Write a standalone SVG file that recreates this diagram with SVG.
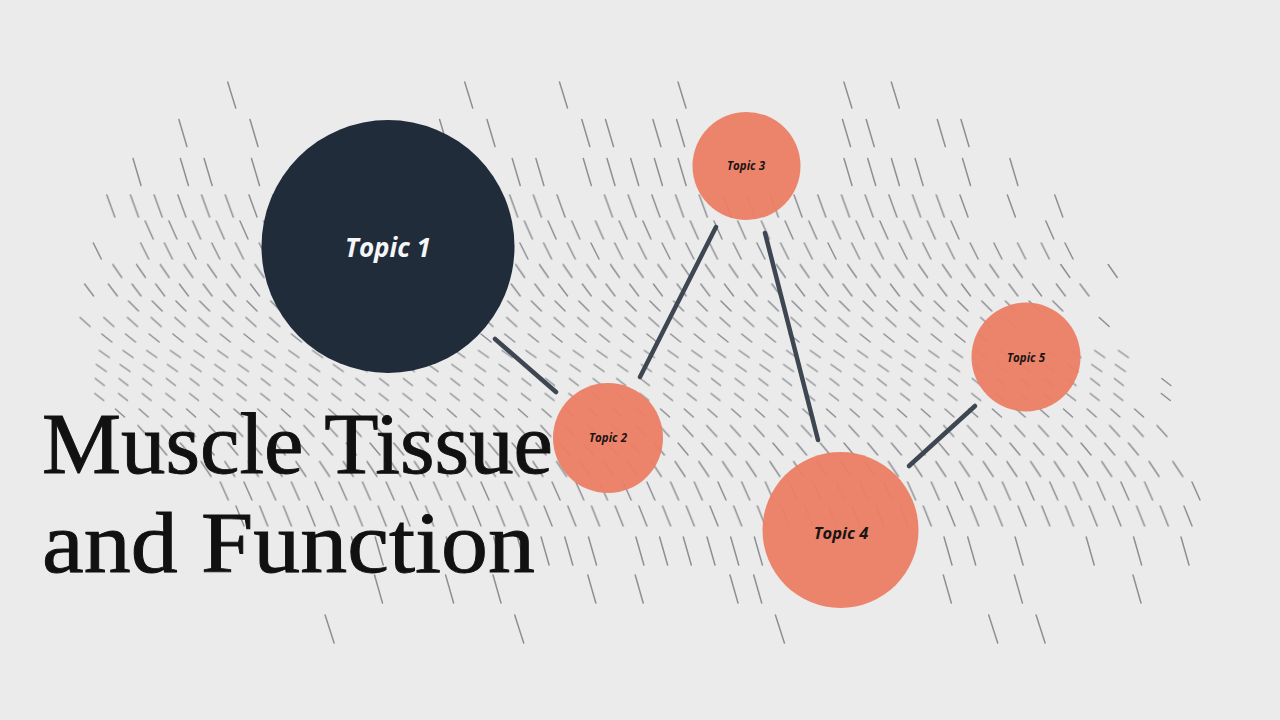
<svg xmlns="http://www.w3.org/2000/svg" width="1280" height="720" viewBox="0 0 1280 720">
<style>
.h{stroke:#8c9095;stroke-width:1.5;stroke-linecap:round;fill:none}
.c{stroke:#3d4651;stroke-width:4.5;stroke-linecap:round;fill:none}
.t{font-family:"Open Sans","Noto Sans",sans-serif;font-weight:700;font-style:italic;text-anchor:middle}
.sal{fill:#ec7e65;fill-opacity:0.95}
.ttl{font-family:"Liberation Serif","Times New Roman",serif;font-size:86px;fill:#111;stroke:#111;stroke-width:0.9}
</style>
<defs>
<pattern id="p4" patternUnits="userSpaceOnUse" x="4.15" y="193" width="23.7" height="26"><path class="h" d="M7.85 2l8 22"/></pattern>
<pattern id="p5" patternUnits="userSpaceOnUse" x="-4.85" y="219" width="23.7" height="22"><path class="h" d="M7.85 2l8 18"/></pattern>
<pattern id="p6" patternUnits="userSpaceOnUse" x="-9.35" y="241" width="23.7" height="20"><path class="h" d="M7.85 2l8 16"/></pattern>
<pattern id="p7" patternUnits="userSpaceOnUse" x="10.65" y="262.5" width="23.7" height="17"><path class="h" d="M7.35 2l9 13"/></pattern>
<pattern id="p8" patternUnits="userSpaceOnUse" x="6.15" y="282" width="23.7" height="16"><path class="h" d="M7.35 2l9 12"/></pattern>
<pattern id="p9" patternUnits="userSpaceOnUse" x="3.15" y="299" width="23.7" height="14"><path class="h" d="M6.85 2l10 10"/></pattern>
<pattern id="p10" patternUnits="userSpaceOnUse" x="2.15" y="315.5" width="23.7" height="13"><path class="h" d="M6.85 2l10 9"/></pattern>
<pattern id="p11" patternUnits="userSpaceOnUse" x="0.15" y="332" width="23.7" height="12"><path class="h" d="M6.85 2l10 8"/></pattern>
<pattern id="p12" patternUnits="userSpaceOnUse" x="-2.35" y="348.5" width="23.7" height="11"><path class="h" d="M6.85 2l10 7"/></pattern>
<pattern id="p13" patternUnits="userSpaceOnUse" x="-5.35" y="362.5" width="23.7" height="11"><path class="h" d="M6.85 2l10 7"/></pattern>
<pattern id="p14" patternUnits="userSpaceOnUse" x="-6.85" y="376.5" width="23.7" height="11"><path class="h" d="M7.35 2l9 7"/></pattern>
<pattern id="p15" patternUnits="userSpaceOnUse" x="-7.35" y="391.5" width="23.7" height="11"><path class="h" d="M7.35 2l9 7"/></pattern>
<pattern id="p16" patternUnits="userSpaceOnUse" x="-10.35" y="407" width="23.7" height="12"><path class="h" d="M7.35 2l9 8"/></pattern>
<pattern id="p17" patternUnits="userSpaceOnUse" x="-11.15" y="423.5" width="23.7" height="15"><path class="h" d="M6.85 2l10 11"/></pattern>
<pattern id="p18" patternUnits="userSpaceOnUse" x="7.65" y="441" width="23.7" height="16"><path class="h" d="M6.85 2l10 12"/></pattern>
<pattern id="p19" patternUnits="userSpaceOnUse" x="4.65" y="459.5" width="23.7" height="19"><path class="h" d="M6.85 2l10 15"/></pattern>
<pattern id="p20" patternUnits="userSpaceOnUse" x="-0.85" y="480" width="23.7" height="22"><path class="h" d="M7.85 2l8 18"/></pattern>
<pattern id="p21" patternUnits="userSpaceOnUse" x="-8.85" y="504" width="23.7" height="24"><path class="h" d="M7.85 2l8 20"/></pattern>
</defs>
<rect width="1280" height="720" fill="#ebebeb"/>
<g id="texture">
<rect x="99" y="193" width="474" height="26" fill="url(#p4)"/>
<rect x="596.65" y="193" width="379.2" height="26" fill="url(#p4)"/>
<rect x="137.35" y="219" width="829.5" height="22" fill="url(#p5)"/>
<rect x="132.85" y="241" width="948" height="20" fill="url(#p6)"/>
<rect x="105.45" y="262.5" width="924.3" height="17" fill="url(#p7)"/>
<rect x="77.25" y="282" width="1019.1" height="16" fill="url(#p8)"/>
<rect x="121.65" y="299" width="948" height="14" fill="url(#p9)"/>
<rect x="73.25" y="315.5" width="948" height="13" fill="url(#p10)"/>
<rect x="94.95" y="332" width="900.9" height="12" fill="url(#p11)"/>
<rect x="92.45" y="348.5" width="1042.8" height="11" fill="url(#p12)"/>
<rect x="89.45" y="362.5" width="1042.8" height="11" fill="url(#p13)"/>
<rect x="87.95" y="376.5" width="1042.8" height="11" fill="url(#p14)"/>
<rect x="87.45" y="391.5" width="1042.8" height="11" fill="url(#p15)"/>
<rect x="108.15" y="407" width="1042.8" height="12" fill="url(#p16)"/>
<rect x="131.05" y="423.5" width="1042.8" height="15" fill="url(#p17)"/>
<rect x="149.85" y="441" width="995.4" height="16" fill="url(#p18)"/>
<rect x="194.25" y="459.5" width="995.4" height="19" fill="url(#p19)"/>
<rect x="212.45" y="480" width="948" height="22" fill="url(#p20)"/>
<rect x="228.15" y="504" width="971.7" height="24" fill="url(#p21)"/>
<path class="h" d="M227.7 82l8 26M464.7 82l8 26M559.5 82l8 26M678 82l8 26M843.9 82l8 26M891.3 82l8 26"/>
<path class="h" d="M178.9 119.5l8 27M250 119.5l8 27M439.6 119.5l8 27M487 119.5l8 27M581.8 119.5l8 27M605.5 119.5l8 27M652.9 119.5l8 27M676.6 119.5l8 27M842.5 119.5l8 27M866.2 119.5l8 27M937.3 119.5l8 27M961 119.5l8 27"/>
<path class="h" d="M133 158.5l8 27M180.4 158.5l8 27M204.1 158.5l8 27M251.5 158.5l8 27M512.2 158.5l8 27M535.9 158.5l8 27M583.3 158.5l8 27M607 158.5l8 27M630.7 158.5l8 27M654.4 158.5l8 27M678.1 158.5l8 27M844 158.5l8 27M867.7 158.5l8 27M891.4 158.5l8 27M915.1 158.5l8 27M962.5 158.5l8 27M1009.9 158.5l8 27"/>
<path class="h" d="M1007.4 195l8 22M1054.8 195l8 22M1045.8 221l8 18M93.3 243l8 16M1060.8 264.5l9 13M1108.2 264.5l9 13M1099.2 317.5l10 9M1161.8 378.5l9 7M1161.3 393.5l9 7M1192 482l8 18"/>
<path class="h" d="M351.5 537l8 28M375.2 537l8 28M446.3 537l8 28M493.7 537l8 28M517.4 537l8 28M541.1 537l8 28M564.8 537l8 28M588.5 537l8 28M635.9 537l8 28M659.6 537l8 28M683.3 537l8 28M707 537l8 28M730.7 537l8 28M754.4 537l8 28M944 537l8 28M967.7 537l8 28M1015.1 537l8 28M1086.2 537l8 28M1133.6 537l8 28M1181 537l8 28"/>
<path class="h" d="M374.5 575l8 28M445.6 575l8 28M493 575l8 28M587.8 575l8 28M635.2 575l8 28M730 575l8 28M753.7 575l8 28M943.3 575l8 28M1014.4 575l8 28M1133 575l8 28"/>
<path class="h" d="M325.1 615l9 28M514.7 615l9 28M775.4 615l9 28M988.7 615l9 28M1036.1 615l9 28"/>
</g>
<g id="title">
<text class="ttl" x="42" y="473" textLength="511" lengthAdjust="spacingAndGlyphs">Muscle Tissue</text>
<text class="ttl" x="42" y="572" textLength="493" lengthAdjust="spacingAndGlyphs">and Function</text>
</g>
<g id="connectors">
<line class="c" x1="495" y1="339" x2="556" y2="392"/>
<line class="c" x1="640" y1="377" x2="716" y2="227"/>
<line class="c" x1="765" y1="233" x2="818" y2="440"/>
<line class="c" x1="909" y1="466" x2="975" y2="406"/>
</g>
<g id="topic1">
<circle cx="388" cy="246.5" r="126.5" fill="#212c3b"/>
<text class="t" x="388" y="257" font-size="26" fill="#f4f6f8">Topic 1</text>
</g>
<g id="topic2">
<circle class="sal" cx="608" cy="438" r="55"/>
<text class="t" x="608" y="442" font-size="11.5" fill="#1b1414">Topic 2</text>
</g>
<g id="topic3">
<circle class="sal" cx="746.5" cy="166" r="54"/>
<text class="t" x="746" y="170" font-size="11.5" fill="#1b1414">Topic 3</text>
</g>
<g id="topic4">
<circle class="sal" cx="840.5" cy="530" r="78"/>
<text class="t" x="841" y="539" font-size="16.5" fill="#1b1414">Topic 4</text>
</g>
<g id="topic5">
<circle class="sal" cx="1026" cy="357" r="54.5"/>
<text class="t" x="1026" y="361.5" font-size="11.5" fill="#1b1414">Topic 5</text>
</g>
</svg>
